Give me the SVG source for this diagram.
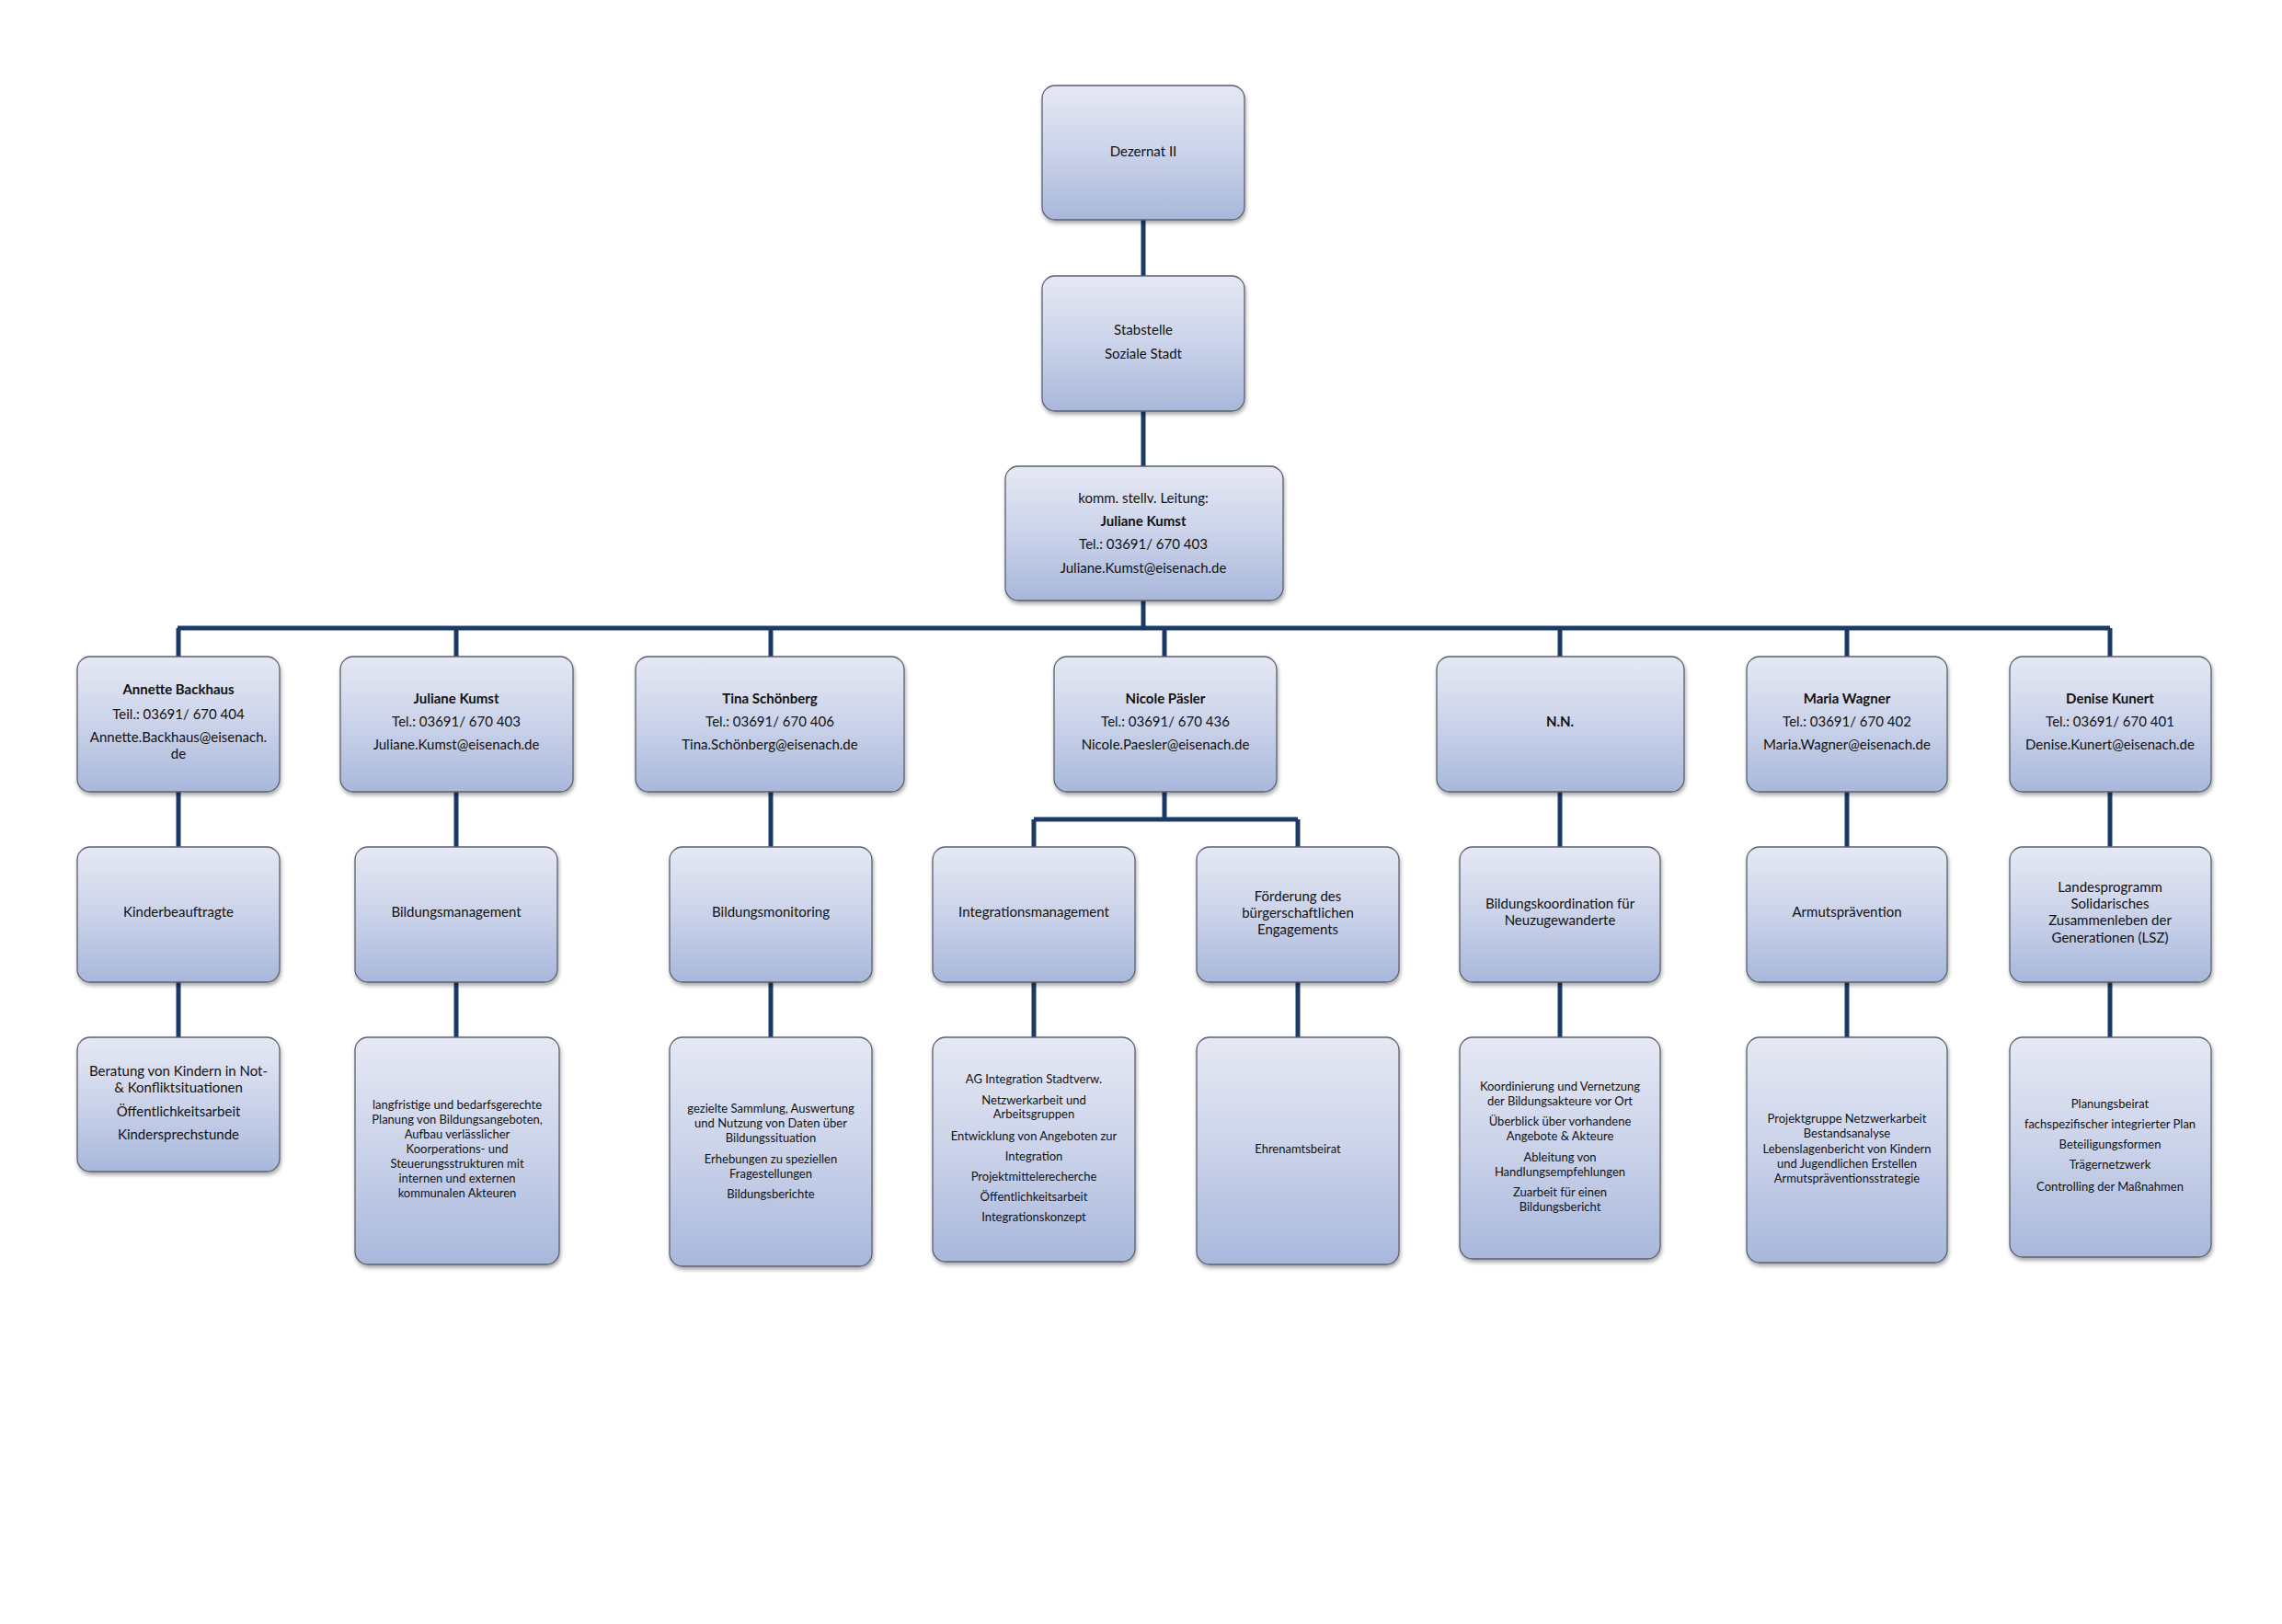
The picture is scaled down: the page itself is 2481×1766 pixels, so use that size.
<svg xmlns="http://www.w3.org/2000/svg" width="2481" height="1766" viewBox="0 0 2481 1766">
<defs>
<linearGradient id="g" x1="0" y1="0" x2="0" y2="1">
<stop offset="0" stop-color="#E6E9F4"/>
<stop offset="0.5" stop-color="#CBD3EA"/>
<stop offset="1" stop-color="#A8B7DB"/>
</linearGradient>
<filter id="sh" x="-10%" y="-10%" width="125%" height="125%">
<feDropShadow dx="1" dy="3" stdDeviation="2" flood-color="#000" flood-opacity="0.35"/>
</filter>
</defs>
<style>
.b{fill:url(#g);stroke:#5A6070;stroke-width:1.3;filter:url(#sh)}
text{font-family:Lato,"Liberation Sans",sans-serif;fill:#111;text-anchor:middle}
.t{font-size:15px}
.s{font-size:13px}
.m{font-size:15px}
.bd{font-weight:bold}
.c{fill:none;stroke:#1B3A68;stroke-width:5}
</style>
<rect width="2481" height="1766" fill="#fff"/>
<g id="connectors">
<path class="c" d="M1243 239V300M1243 447V507M1243 653V683M193 683H2294M194 683V714M496 683V714M838 683V714M1266 683V714M1696 683V714M2008 683V714M2294 683V714"/>
<path class="c" d="M194 861V921M496 861V921M838 861V921M1696 861V921M2008 861V921M2294 861V921M1266 861V891M1124 891H1411M1124 891V921M1411 891V921"/>
<path class="c" d="M194 1068V1128M496 1068V1128M838 1068V1128M1124 1068V1128M1411 1068V1128M1696 1068V1128M2008 1068V1128M2294 1068V1128"/>
</g>
<g id="dezernat"><rect class="b" x="1133" y="93" width="220" height="146" rx="14"/><text class="t" x="1243" y="170">Dezernat II</text></g>
<g id="stabstelle"><rect class="b" x="1133" y="300" width="220" height="147" rx="14"/><text class="t" x="1243" y="364">Stabstelle</text><text class="t" x="1243" y="390">Soziale Stadt</text></g>
<g id="leitung"><rect class="b" x="1093" y="507" width="302" height="146" rx="14"/><text class="t" x="1243" y="547">komm. stellv. Leitung:</text><text class="t bd" x="1243" y="572">Juliane Kumst</text><text class="t" x="1243" y="597">Tel.: 03691/ 670 403</text><text class="t" x="1243" y="623">Juliane.Kumst@eisenach.de</text></g>

<g id="p-backhaus"><rect class="b" x="84" y="714" width="220" height="147" rx="14"/><text class="t bd" x="194" y="755">Annette Backhaus</text><text class="t" x="194" y="782">Teil.: 03691/ 670 404</text><text class="t" x="194" y="807">Annette.Backhaus@eisenach.</text><text class="t" x="194" y="825">de</text></g>
<g id="p-kumst"><rect class="b" x="370" y="714" width="253" height="147" rx="14"/><text class="t bd" x="496" y="765">Juliane Kumst</text><text class="t" x="496" y="790">Tel.:  03691/ 670 403</text><text class="t" x="496" y="815">Juliane.Kumst@eisenach.de</text></g>
<g id="p-schoenberg"><rect class="b" x="691" y="714" width="292" height="147" rx="14"/><text class="t bd" x="837" y="765">Tina Schönberg</text><text class="t" x="837" y="790">Tel.: 03691/ 670 406</text><text class="t" x="837" y="815">Tina.Schönberg@eisenach.de</text></g>
<g id="p-paesler"><rect class="b" x="1146" y="714" width="242" height="147" rx="14"/><text class="t bd" x="1267" y="765">Nicole Päsler</text><text class="t" x="1267" y="790">Tel.:  03691/ 670 436</text><text class="t" x="1267" y="815">Nicole.Paesler@eisenach.de</text></g>
<g id="p-nn"><rect class="b" x="1562" y="714" width="269" height="147" rx="14"/><text class="t bd" x="1696" y="790">N.N.</text></g>
<g id="p-wagner"><rect class="b" x="1899" y="714" width="218" height="147" rx="14"/><text class="t bd" x="2008" y="765">Maria Wagner</text><text class="t" x="2008" y="790">Tel.: 03691/ 670 402</text><text class="t" x="2008" y="815">Maria.Wagner@eisenach.de</text></g>
<g id="p-kunert"><rect class="b" x="2185" y="714" width="219" height="147" rx="14"/><text class="t bd" x="2294" y="765">Denise Kunert</text><text class="t" x="2294" y="790">Tel.: 03691/ 670 401</text><text class="t" x="2294" y="815">Denise.Kunert@eisenach.de</text></g>

<g id="a-kinder"><rect class="b" x="84" y="921" width="220" height="147" rx="14"/><text class="t" x="194" y="997">Kinderbeauftragte</text></g>
<g id="a-bildmgmt"><rect class="b" x="386" y="921" width="220" height="147" rx="14"/><text class="t" x="496" y="997">Bildungsmanagement</text></g>
<g id="a-bildmon"><rect class="b" x="728" y="921" width="220" height="147" rx="14"/><text class="t" x="838" y="997">Bildungsmonitoring</text></g>
<g id="a-integ"><rect class="b" x="1014" y="921" width="220" height="147" rx="14"/><text class="t" x="1124" y="997">Integrationsmanagement</text></g>
<g id="a-foerd"><rect class="b" x="1301" y="921" width="220" height="147" rx="14"/><text class="t" x="1411" y="980">Förderung des</text><text class="t" x="1411" y="998">bürgerschaftlichen</text><text class="t" x="1411" y="1016">Engagements</text></g>
<g id="a-bildko"><rect class="b" x="1587" y="921" width="218" height="147" rx="14"/><text class="t" x="1696" y="988">Bildungskoordination für</text><text class="t" x="1696" y="1006">Neuzugewanderte</text></g>
<g id="a-armut"><rect class="b" x="1899" y="921" width="218" height="147" rx="14"/><text class="t" x="2008" y="997">Armutsprävention</text></g>
<g id="a-lsz"><rect class="b" x="2185" y="921" width="219" height="147" rx="14"/><text class="t" x="2294" y="970">Landesprogramm</text><text class="t" x="2294" y="988">Solidarisches</text><text class="t" x="2294" y="1006">Zusammenleben der</text><text class="t" x="2294" y="1025">Generationen (LSZ)</text></g>

<g id="d-kinder"><rect class="b" x="84" y="1128" width="220" height="146" rx="14"/><text class="m" x="194" y="1170">Beratung von Kindern in Not-</text><text class="m" x="194" y="1188">&amp; Konfliktsituationen</text><text class="m" x="194" y="1214">Öffentlichkeitsarbeit</text><text class="m" x="194" y="1239">Kindersprechstunde</text></g>
<g id="d-bildmgmt"><rect class="b" x="386" y="1128" width="222" height="247" rx="14"/><text class="s" x="497" y="1206">langfristige und bedarfsgerechte</text><text class="s" x="497" y="1222">Planung von Bildungsangeboten,</text><text class="s" x="497" y="1238">Aufbau verlässlicher</text><text class="s" x="497" y="1254">Koorperations- und</text><text class="s" x="497" y="1270">Steuerungsstrukturen mit</text><text class="s" x="497" y="1286">internen und externen</text><text class="s" x="497" y="1302">kommunalen Akteuren</text></g>
<g id="d-bildmon"><rect class="b" x="728" y="1128" width="220" height="249" rx="14"/><text class="s" x="838" y="1210">gezielte Sammlung, Auswertung</text><text class="s" x="838" y="1226">und Nutzung von Daten über</text><text class="s" x="838" y="1242">Bildungssituation</text><text class="s" x="838" y="1265">Erhebungen zu speziellen</text><text class="s" x="838" y="1281">Fragestellungen</text><text class="s" x="838" y="1303">Bildungsberichte</text></g>
<g id="d-integ"><rect class="b" x="1014" y="1128" width="220" height="244" rx="14"/><text class="s" x="1124" y="1178">AG Integration Stadtverw.</text><text class="s" x="1124" y="1201">Netzwerkarbeit und</text><text class="s" x="1124" y="1216">Arbeitsgruppen</text><text class="s" x="1124" y="1240">Entwicklung von Angeboten zur</text><text class="s" x="1124" y="1262">Integration</text><text class="s" x="1124" y="1284">Projektmittelerecherche</text><text class="s" x="1124" y="1306">Öffentlichkeitsarbeit</text><text class="s" x="1124" y="1328">Integrationskonzept</text></g>
<g id="d-ehren"><rect class="b" x="1301" y="1128" width="220" height="247" rx="14"/><text class="s" x="1411" y="1254">Ehrenamtsbeirat</text></g>
<g id="d-bildko"><rect class="b" x="1587" y="1128" width="218" height="241" rx="14"/><text class="s" x="1696" y="1186">Koordinierung und Vernetzung</text><text class="s" x="1696" y="1202">der Bildungsakteure vor Ort</text><text class="s" x="1696" y="1224">Überblick über vorhandene</text><text class="s" x="1696" y="1240">Angebote &amp; Akteure</text><text class="s" x="1696" y="1263">Ableitung von</text><text class="s" x="1696" y="1279">Handlungsempfehlungen</text><text class="s" x="1696" y="1301">Zuarbeit für einen</text><text class="s" x="1696" y="1317">Bildungsbericht</text></g>
<g id="d-armut"><rect class="b" x="1899" y="1128" width="218" height="245" rx="14"/><text class="s" x="2008" y="1221">Projektgruppe Netzwerkarbeit</text><text class="s" x="2008" y="1237">Bestandsanalyse</text><text class="s" x="2008" y="1254">Lebenslagenbericht von Kindern</text><text class="s" x="2008" y="1270">und Jugendlichen Erstellen</text><text class="s" x="2008" y="1286">Armutspräventionsstrategie</text></g>
<g id="d-lsz"><rect class="b" x="2185" y="1128" width="219" height="239" rx="14"/><text class="s" x="2294" y="1205">Planungsbeirat</text><text class="s" x="2294" y="1227">fachspezifischer integrierter Plan</text><text class="s" x="2294" y="1249">Beteiligungsformen</text><text class="s" x="2294" y="1271">Trägernetzwerk</text><text class="s" x="2294" y="1295">Controlling der Maßnahmen</text></g>
</svg>
